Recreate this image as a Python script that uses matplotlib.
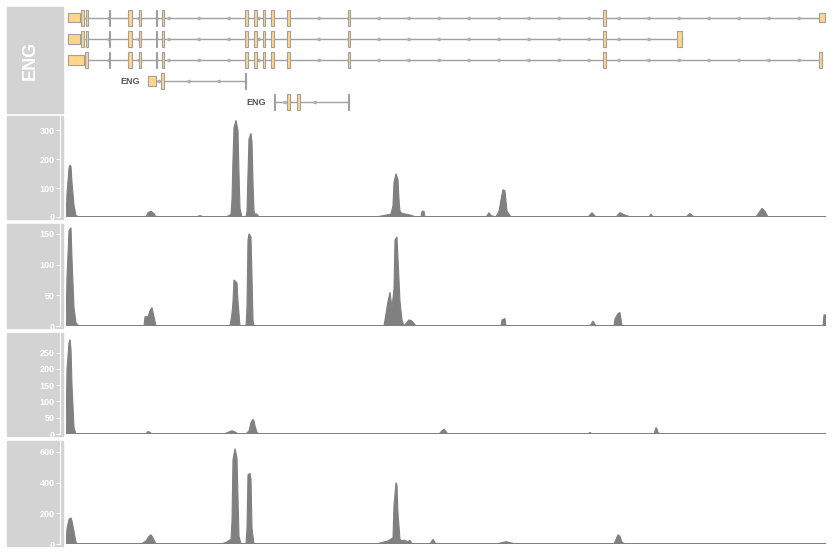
import numpy as np
import matplotlib.pyplot as plt
from matplotlib.patches import Rectangle

plt.rcParams['font.family'] = ['Liberation Sans', 'DejaVu Sans']

# gene model, x in track units (0..760)
tx_starts = [2, 2, 2, 82, 208]
tx_ends = [759, 616, 756, 180, 283]
tx_labels = [None, None, None, 'ENG', 'ENG']
tx_exons = [
    [(2, 14), (15, 18), (20, 22), (43, 44), (62, 66), (73, 75), (90, 91), (96, 98), (179, 182),
     (188, 191), (197, 199), (205, 208), (221, 224), (282, 284), (537, 540), (753, 759)],
    [(2, 14), (15, 18), (20, 22), (43, 44), (62, 66), (73, 75), (90, 91), (96, 98), (179, 182),
     (188, 191), (197, 199), (205, 208), (221, 224), (282, 284), (537, 540), (611, 616)],
    [(2, 18), (19, 22), (43, 44), (62, 66), (73, 75), (90, 91), (96, 98), (179, 182),
     (188, 191), (197, 199), (205, 208), (221, 224), (282, 284), (537, 540), (753, 756)],
    [(82, 90), (95, 98), (179, 180)],
    [(208, 209), (221, 224), (231, 234), (282, 283)],
]

# coverage tracks: (x, y) vertices
cov1 = [(0, 0), (1, 80), (3, 170), (4, 180), (5, 175), (6, 120), (8, 40), (10, 5), (13, 0),
        (80, 0), (82, 15), (85, 20), (88, 12), (90, 0),
        (130, 0), (134, 5), (138, 0), (160, 0), (163, 5), (165, 10),
        (166, 60), (167, 200), (168, 310), (170, 335), (172, 300), (173, 150), (174, 30), (176, 0),
        (180, 0), (181, 20), (182, 150), (183, 270), (185, 290), (186, 260), (187, 120), (188, 20),
        (189, 10), (191, 10), (193, 0),
        (310, 0), (325, 10), (327, 40), (328, 120), (330, 150), (332, 130), (333, 60), (334, 20),
        (336, 12), (340, 10), (345, 6), (350, 0), (355, 0), (356, 20), (358, 20), (359, 0),
        (420, 0), (423, 15), (425, 5), (430, 0), (433, 20), (435, 60), (437, 95), (439, 90), (441, 20),
        (445, 0), (522, 0), (526, 15), (530, 0), (550, 0), (554, 15), (558, 8), (565, 0),
        (583, 0), (585, 10), (587, 0), (620, 0), (624, 12), (628, 0),
        (690, 0), (694, 20), (696, 30), (699, 20), (702, 0), (760, 0)]
cov2 = [(0, 0), (1, 80), (3, 155), (5, 160), (6, 110), (8, 30), (10, 5), (13, 0),
        (78, 0), (79, 15), (82, 15), (84, 25), (86, 30), (88, 15), (90, 0),
        (164, 0), (166, 20), (167, 40), (168, 75), (170, 72), (171, 70), (172, 40), (174, 0),
        (180, 0), (181, 30), (182, 140), (183, 150), (185, 145), (186, 80), (187, 10), (188, 0),
        (318, 0), (320, 20), (322, 40), (324, 55), (326, 30), (328, 60), (329, 140), (331, 145),
        (332, 110), (334, 40), (336, 10), (338, 0), (343, 10), (346, 8), (350, 0),
        (435, 0), (436, 10), (439, 12), (440, 0), (524, 0), (527, 8), (530, 0),
        (548, 0), (549, 12), (552, 20), (554, 22), (556, 0), (757, 0), (758, 18), (760, 18), (760, 0)]
cov3 = [(0, 0), (1, 200), (3, 280), (4, 290), (5, 260), (6, 150), (8, 20), (10, 0),
        (80, 0), (82, 8), (84, 5), (86, 0), (158, 0), (162, 5), (166, 10), (170, 5), (172, 0),
        (180, 0), (183, 10), (185, 35), (186, 40), (187, 45), (188, 40), (189, 25), (191, 5), (193, 0),
        (373, 0), (376, 10), (378, 15), (382, 0), (522, 0), (524, 5), (526, 0),
        (588, 0), (589, 10), (590, 20), (591, 15), (592, 5), (594, 0), (760, 0)]
cov4 = [(0, 0), (1, 100), (3, 160), (5, 170), (6, 150), (8, 80), (10, 10), (12, 0),
        (75, 0), (80, 20), (83, 50), (85, 60), (87, 40), (90, 0), (155, 0), (160, 10), (165, 30),
        (166, 150), (167, 550), (169, 620), (171, 560), (172, 300), (173, 50), (175, 0),
        (180, 0), (181, 100), (182, 450), (184, 460), (185, 420), (186, 100), (188, 0),
        (310, 0), (322, 20), (327, 40), (328, 250), (330, 400), (331, 380), (332, 200), (334, 30),
        (336, 20), (338, 25), (342, 15), (344, 25), (346, 0), (364, 0), (367, 30), (370, 0),
        (430, 0), (440, 15), (450, 0), (548, 0), (550, 30), (552, 60), (554, 50), (556, 10), (560, 0),
        (590, 0), (760, 0)]
tracks = [(cov1, 350, [0, 100, 200, 300]),
          (cov2, 166, [0, 50, 100, 150]),
          (cov3, 310, [0, 50, 100, 150, 200, 250]),
          (cov4, 670, [0, 200, 400, 600])]

W, H = 836, 555
fig = plt.figure(figsize=(W / 100, H / 100), dpi=100)
panel = '#d3d3d3'

def fbox(x0, y0, x1, y1):
    return [x0 / W, 1 - y1 / H, (x1 - x0) / W, (y1 - y0) / H]

def side_panel(y0, y1):
    fig.patches.append(Rectangle((7 / W, 1 - y1 / H), 56 / W, (y1 - y0) / H,
                                 transform=fig.transFigure, color=panel, zorder=-5))

# gene track
side_panel(7, 113)
fig.text(30 / W, 1 - 60 / H, 'ENG', rotation=90, color='white', fontsize=13, fontweight='bold',
         ha='center', va='center')
ga = fig.add_axes(fbox(66, 7, 826, 113))
ga.set_xlim(0, 760)
ga.set_ylim(5.5, 0.5)
ga.axis('off')
for i in range(5):
    r = i + 1
    ga.plot([tx_starts[i], tx_ends[i]], [r, r], color='#a0a0a0', lw=1, zorder=1)
    ax_ = np.arange(tx_starts[i] + 10, tx_ends[i] - 5, 30)
    ga.plot(ax_, np.full(len(ax_), r), ls='none', marker='<', ms=2, color='#b0b0b0', zorder=1)
    for a, b in tx_exons[i]:
        h = 0.45 if (b - a) > 5 else 0.75
        ga.add_patch(Rectangle((a, r - h / 2), b - a, h, facecolor='#ffd58a', edgecolor='#a0a0a0', lw=0.8, zorder=2))
    if tx_labels[i]:
        ga.text(tx_starts[i] - 8, r, tx_labels[i], ha='right', va='center', fontsize=6.5,
                fontweight='bold', color='#555555')

# coverage tracks
spans = [(116, 220), (224, 329), (333, 437), (441, 547)]
for (pts, top, ticks), (y0, y1) in zip(tracks, spans):
    side_panel(y0, y1 - 1)
    ax = fig.add_axes(fbox(66, y0, 826, y1 - 3))
    x = [p[0] for p in pts]
    y = [p[1] for p in pts]
    ax.fill(x, y, color='#808080', lw=0.8, edgecolor='#808080')
    ax.axhline(0, color='#808080', lw=2)
    ax.set_xlim(0, 760)
    ax.set_ylim(0, top)
    ax.set_facecolor('none')
    for s in ['top', 'right', 'bottom']:
        ax.spines[s].set_visible(False)
    ax.spines['left'].set_position(('outward', 4))
    ax.spines['left'].set_color('white')
    ax.set_xticks([])
    ax.set_yticks(ticks)
    ax.tick_params(axis='y', colors='white', labelsize=6.5, length=3, pad=1)
    for t in ax.get_yticklabels():
        t.set_fontweight('bold')

fig.savefig('out.png', dpi=100)
